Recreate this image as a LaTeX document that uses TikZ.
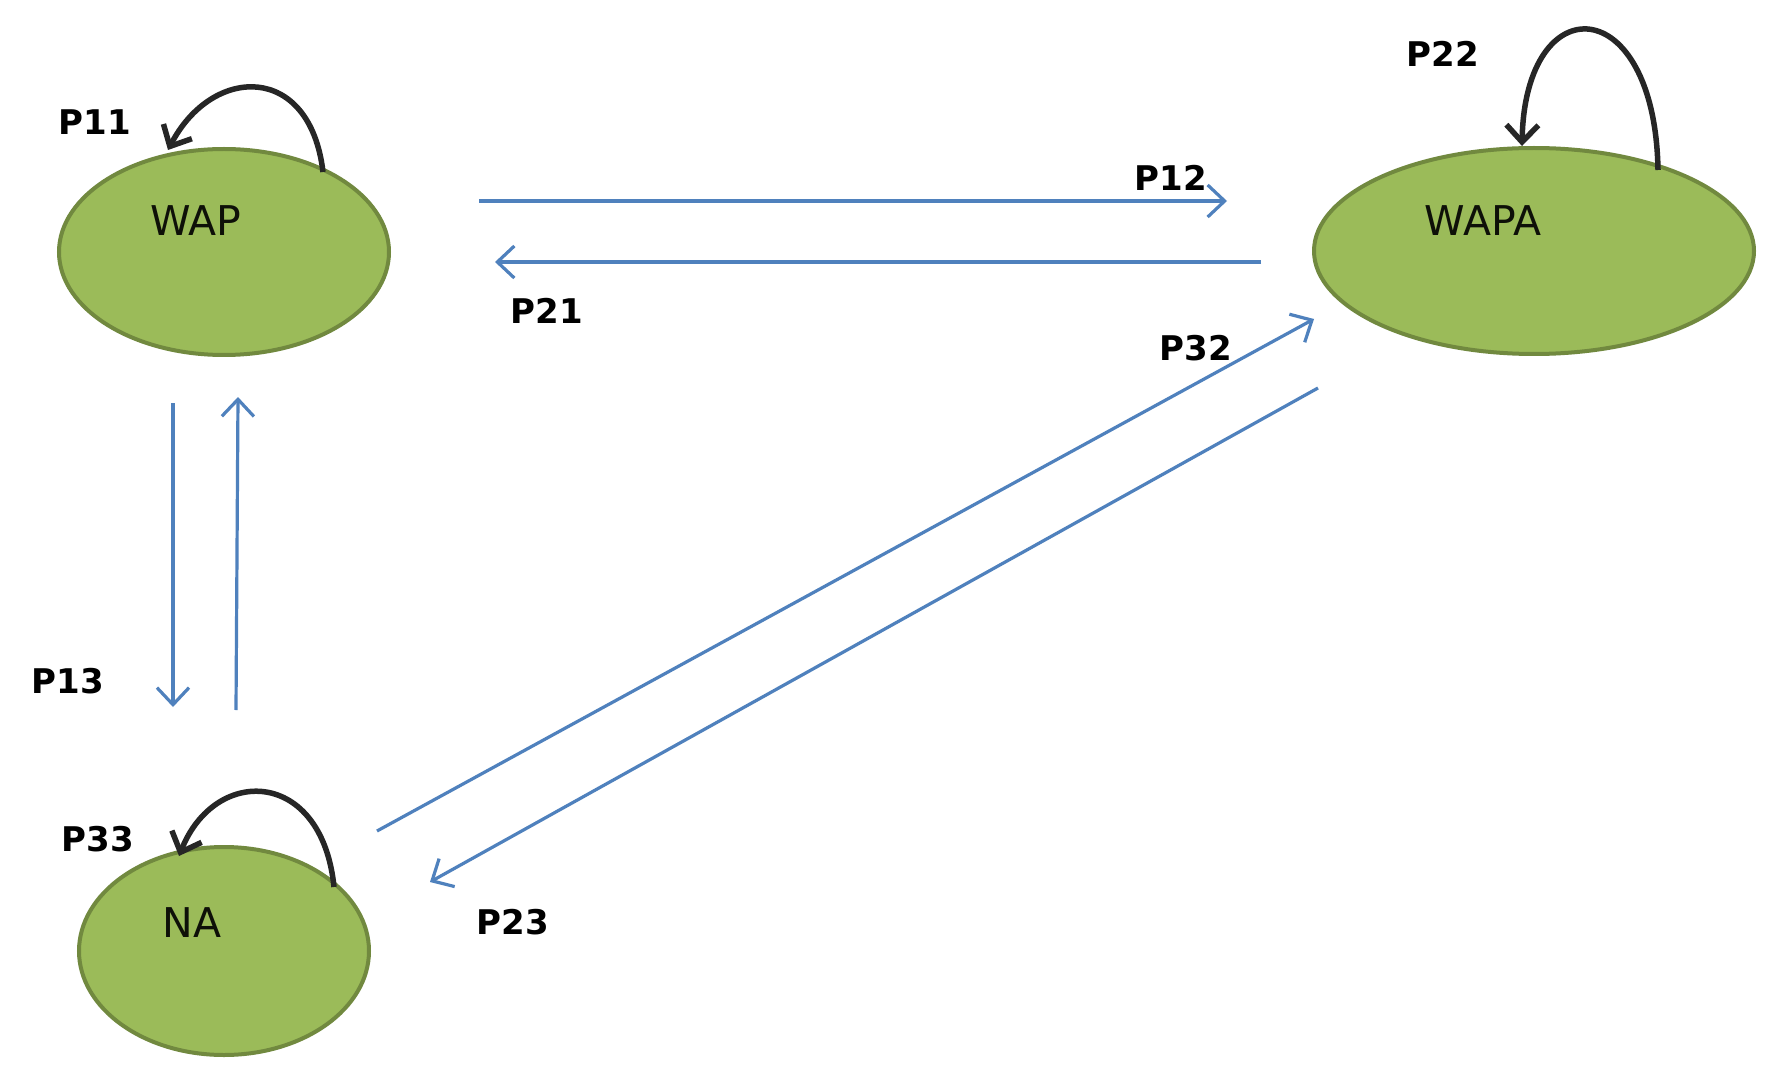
\documentclass[tikz,border=0pt]{standalone}
\usepackage{fontspec}
\setmainfont{DejaVu Sans}
\usetikzlibrary{shapes.geometric,arrows.meta}
\definecolor{gfill}{HTML}{9BBB59}
\definecolor{gdraw}{HTML}{71893F}
\definecolor{ablue}{HTML}{4F81BD}
\definecolor{loopc}{HTML}{262626}
\begin{document}
\begin{tikzpicture}[x=1pt,y=-1pt,
  state/.style={ellipse, fill=gfill, draw=gdraw, line width=4pt, inner sep=0pt},
  stext/.style={font=\fontsize{41}{41}\selectfont, text=black!88!gdraw, inner sep=0pt},
  plab/.style={font=\fontsize{34}{34}\selectfont\bfseries, text=black, inner sep=0pt},
  flow/.style={draw=ablue, line width=3.2pt, -{Straight Barb[length=17pt,width=32pt]}},
  selfloop/.style={draw=loopc, line width=5.5pt, -{Straight Barb[length=17pt,width=32pt]}}]
\useasboundingbox[fill=white] (0,0) rectangle (1773,1075);

% states
\node[state, minimum width=330pt, minimum height=206pt] (wap) at (224,252) {};
\node[state, minimum width=440pt, minimum height=206pt] (wapa) at (1534,251) {};
\node[state, minimum width=290pt, minimum height=208pt] (na) at (224,951) {};
\node[stext] (wapt) at (196,221) {WAP};
\node[stext] (wapat) at (1483,221) {WAPA};
\node[stext] (nat) at (192,923) {NA};

% self loops
\coordinate (l1s) at (323,172);
\coordinate (l1e) at (168,150);
\draw[selfloop] (l1s) .. controls (310,62) and (212,65) .. (l1e);
\coordinate (l2s) at (1658,170);
\coordinate (l2e) at (1522,146);
\draw[selfloop] (l2s) .. controls (1655,-10) and (1525,-15) .. (l2e);
\coordinate (l3s) at (334,887);
\coordinate (l3e) at (179,856);
\draw[selfloop] (l3s) .. controls (322,768) and (215,765) .. (l3e);

% transition arrows
\coordinate (a12s) at (479,201);
\coordinate (a12e) at (1227,201);
\draw[flow] (a12s) -- (a12e);
\coordinate (a21s) at (1261,262);
\coordinate (a21e) at (495,262);
\draw[flow] (a21s) -- (a21e);
\coordinate (a13s) at (173,403);
\coordinate (a13e) at (173,707);
\draw[flow] (a13s) -- (a13e);
\coordinate (a31s) at (236,710);
\coordinate (a31e) at (238,397);
\draw[flow] (a31s) -- (a31e);
\coordinate (a32s) at (377,831);
\coordinate (a32e) at (1314,319);
\draw[flow] (a32s) -- (a32e);
\coordinate (a23s) at (1318,388);
\coordinate (a23e) at (430,882);
\draw[flow] (a23s) -- (a23e);

% labels
\node[plab] (p11) at (95,122) {P11};
\node[plab] (p22) at (1443,54) {P22};
\node[plab] (p12) at (1171,178) {P12};
\node[plab] (p21) at (547,311) {P21};
\node[plab] (p32) at (1196,348) {P32};
\node[plab] (p13) at (68,681) {P13};
\node[plab] (p33) at (98,839) {P33};
\node[plab] (p23) at (513,922) {P23};
\end{tikzpicture}
\end{document}
